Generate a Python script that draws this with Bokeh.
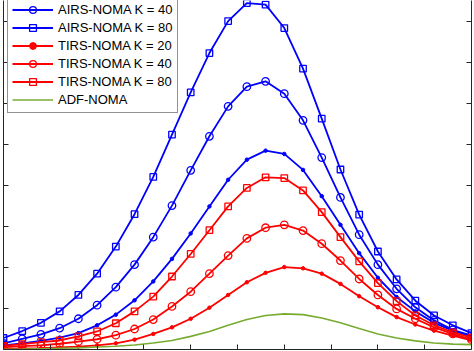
from bokeh.plotting import figure
from bokeh.models import Range1d, LinearAxis, FixedTicker, Legend, LegendItem, CustomLabelingPolicy
from bokeh.embed import file_html
from bokeh.resources import INLINE

snr = [0, 2, 4, 6, 8, 10, 12, 14, 16, 18, 20, 22, 24, 26, 28, 30, 32, 34, 36, 38, 40, 42, 44, 46, 48, 50]
x_ticks = [0, 5, 10, 15, 20, 25, 30, 35, 40, 45, 50]
y_ticks = [1, 2, 3, 4, 5, 6, 7, 8]

airs_k20 = [0.10, 0.15, 0.21, 0.29, 0.40, 0.59, 0.85, 1.20, 1.66, 2.21, 2.83, 3.49, 4.14, 4.63, 4.85, 4.77,
            4.38, 3.74, 3.04, 2.35, 1.75, 1.28, 0.93, 0.65, 0.46, 0.32]
airs_k40 = [0.15, 0.26, 0.37, 0.52, 0.75, 1.08, 1.52, 2.07, 2.74, 3.51, 4.37, 5.20, 5.93, 6.41, 6.54, 6.24,
            5.59, 4.68, 3.71, 2.80, 2.07, 1.48, 1.03, 0.71, 0.48, 0.34]
airs_k80 = [0.28, 0.45, 0.65, 0.93, 1.33, 1.85, 2.51, 3.30, 4.21, 5.24, 6.27, 7.23, 8.01, 8.45, 8.41, 7.84,
            6.85, 5.63, 4.39, 3.29, 2.39, 1.71, 1.19, 0.83, 0.59, 0.40]
tirs_k20 = [0.02, 0.02, 0.03, 0.05, 0.07, 0.10, 0.15, 0.24, 0.38, 0.54, 0.75, 1.02, 1.33, 1.64, 1.87, 2.01,
            1.98, 1.85, 1.60, 1.30, 1.03, 0.79, 0.61, 0.46, 0.34, 0.22]
tirs_k40 = [0.06, 0.08, 0.10, 0.14, 0.19, 0.25, 0.35, 0.50, 0.73, 1.05, 1.41, 1.85, 2.29, 2.71, 2.97, 3.04,
            2.90, 2.58, 2.17, 1.72, 1.33, 0.99, 0.75, 0.54, 0.38, 0.24]
tirs_k80 = [0.09, 0.13, 0.18, 0.22, 0.32, 0.44, 0.64, 0.93, 1.29, 1.78, 2.33, 2.91, 3.49, 3.94, 4.20, 4.18,
            3.88, 3.35, 2.74, 2.15, 1.62, 1.18, 0.83, 0.59, 0.42, 0.29]
adf_noma = [0.005, 0.01, 0.02, 0.03, 0.04, 0.06, 0.08, 0.11, 0.16, 0.22, 0.32, 0.44, 0.59, 0.73, 0.83, 0.87,
            0.85, 0.77, 0.65, 0.51, 0.38, 0.28, 0.21, 0.16, 0.13, 0.12]

labels = ["AIRS-NOMA K = 20", "AIRS-NOMA K = 40", "AIRS-NOMA K = 80",
          "TIRS-NOMA K = 20", "TIRS-NOMA K = 40", "TIRS-NOMA K = 80", "ADF-NOMA"]

BLUE = "#0000ff"
RED = "#ff0000"
GREEN = "#77ac30"
AX = "#262626"

p = figure(width=474, height=351, output_backend="svg", toolbar_location=None,
           x_range=Range1d(0, 50), y_range=Range1d(0, 8.512),
           min_border_left=3, min_border_right=3, min_border_top=0, min_border_bottom=2)
p.outline_line_color = None
p.background_fill_color = "white"
p.border_fill_color = "white"
p.xgrid.visible = False
p.ygrid.visible = False

right_axis = LinearAxis()
p.add_layout(right_axis, "right")

for ax in [p.xaxis[0], p.yaxis[0], right_axis]:
    ax.major_label_text_font_size = "0px"
    ax.major_label_policy = CustomLabelingPolicy(code="return new Set()")
    ax.major_label_standoff = 0
    ax.major_tick_in = 5
    ax.major_tick_out = 0
    ax.minor_tick_in = 0
    ax.minor_tick_out = 0
    ax.axis_line_color = AX
    ax.major_tick_line_color = AX
    ax.axis_line_width = 1
    ax.axis_label = None
p.xaxis[0].ticker = FixedTicker(ticks=x_ticks)
p.yaxis[0].ticker = FixedTicker(ticks=y_ticks)
right_axis.ticker = FixedTicker(ticks=y_ticks)

series = [
    (airs_k20, BLUE, "dot"),
    (airs_k40, BLUE, "circle"),
    (airs_k80, BLUE, "square"),
    (tirs_k20, RED, "dot"),
    (tirs_k40, RED, "circle"),
    (tirs_k80, RED, "square"),
]

items = []
for (vals, col, mk), lab in zip(series, labels):
    l = p.line(snr, vals, line_color=col, line_width=1.8)
    if mk == "dot":
        s = p.scatter(snr, vals, marker="circle", size=3.5, fill_color=col, line_color=col, line_width=1)
    elif mk == "circle":
        s = p.scatter(snr, vals, marker="circle", size=7.5, fill_color=None, line_color=col, line_width=1.3)
    else:
        s = p.scatter(snr, vals, marker="square", size=6.5, fill_color=None, line_color=col, line_width=1.3)
    items.append(LegendItem(label=lab, renderers=[l, s]))

g = p.line(snr, adf_noma, line_color=GREEN, line_width=1.6)
items.append(LegendItem(label=labels[6], renderers=[g]))

legend = Legend(items=items, location=(4, 236), glyph_width=41, glyph_height=17, label_height=17,
                spacing=1, padding=4, margin=0, label_standoff=5,
                label_text_font="Liberation Sans", label_text_font_size="13px", label_text_color="#000000",
                border_line_color=AX, border_line_width=1, background_fill_color="white",
                background_fill_alpha=1.0)
p.add_layout(legend)

open("out.html", "w").write(file_html(p, INLINE))
